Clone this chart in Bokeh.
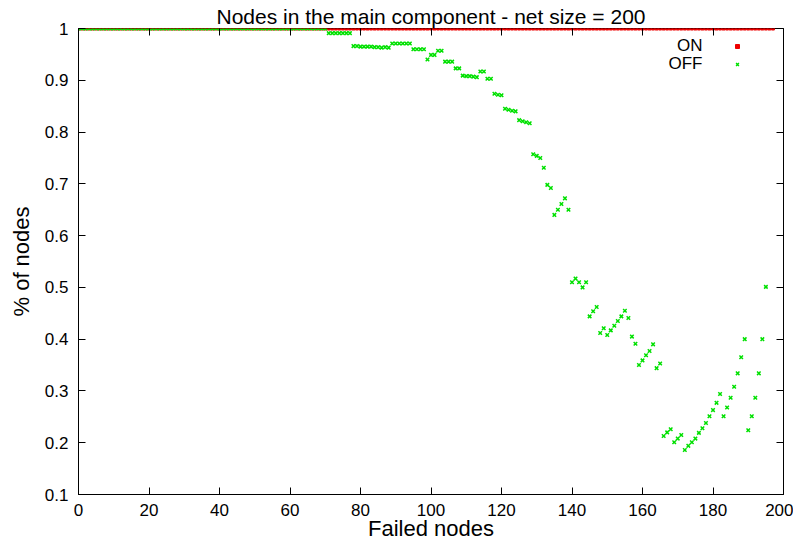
from bokeh.plotting import figure
from bokeh.models import (FixedTicker, LinearAxis, Legend, LegendItem, Range1d,
                          ColumnDataSource, CustomLabelingPolicy, Label)
from bokeh.embed import file_html
from bokeh.resources import INLINE

FONT = "Liberation Sans"

title_text = "Nodes in the main component - net size = 200"
x_label = "Failed nodes"
y_label = "% of nodes"
series_names = ["ON", "OFF"]

x_ticks = [0, 20, 40, 60, 80, 100, 120, 140, 160, 180, 200]
y_ticks = [0.1, 0.2, 0.3, 0.4, 0.5, 0.6, 0.7, 0.8, 0.9, 1]

# ON: fraction stays at 1 for every failed-node count
on_values = [1.0] * 198
on_failed = list(range(len(on_values)))

# OFF, one value per failed-node count 0..195
off_values = [1.0] * 71 + [
    0.991, 0.991, 0.991, 0.991, 0.991, 0.991, 0.991,
    0.966, 0.966, 0.965, 0.965, 0.965, 0.965, 0.964, 0.964, 0.963, 0.964, 0.963,
    0.971, 0.971, 0.971, 0.971, 0.971, 0.971,
    0.960, 0.960, 0.960, 0.960,
    0.940,
    0.949, 0.949,
    0.957, 0.957,
    0.936, 0.936, 0.936,
    0.923, 0.923,
    0.909, 0.908, 0.908, 0.907, 0.906,
    0.917, 0.917,
    0.903, 0.903,
    0.874, 0.872, 0.871,
    0.845, 0.843, 0.841, 0.840,
    0.823, 0.821, 0.819, 0.817,
    0.757, 0.754, 0.750,
    0.731, 0.698, 0.692, 0.640, 0.650, 0.661, 0.672, 0.650,
    0.510, 0.517, 0.510, 0.500, 0.510,
    0.444, 0.454, 0.462,
    0.412, 0.421, 0.408, 0.417, 0.426, 0.435, 0.444, 0.455, 0.441,
    0.405, 0.391,
    0.350, 0.359, 0.369, 0.377, 0.390, 0.344, 0.353,
    0.213, 0.220, 0.226, 0.201, 0.208, 0.215,
    0.186, 0.194, 0.201, 0.208, 0.219, 0.228, 0.238, 0.251, 0.263, 0.277, 0.294,
    0.251, 0.268, 0.287, 0.308, 0.334, 0.365, 0.400,
    0.224, 0.251, 0.287, 0.334, 0.400, 0.501,
]
off_failed = list(range(len(off_values)))

src_on = ColumnDataSource(data=dict(x=on_failed, y=on_values))
src_off = ColumnDataSource(data=dict(x=off_failed, y=off_values))

p = figure(width=793, height=543, x_range=Range1d(0, 200), y_range=Range1d(0.1, 1.0),
           output_backend="svg", toolbar_location=None, title=title_text,
           min_border_left=78, min_border_right=10, min_border_top=28, min_border_bottom=48)
p.background_fill_color = "white"
p.border_fill_color = "white"
p.outline_line_color = "black"
p.outline_line_width = 1
p.xgrid.visible = False
p.ygrid.visible = False

p.title.text_font = FONT
p.title.text_font_style = "normal"
p.title.text_font_size = "21px"
p.title.align = "center"
p.title.standoff = 2
p.title.text_color = "black"

for ax in (p.xaxis[0], p.yaxis[0]):
    ax.major_tick_in = 7
    ax.major_tick_out = 0
    ax.minor_tick_line_color = None
    ax.major_label_text_font = FONT
    ax.major_label_text_font_size = "17px"
    ax.major_label_text_color = "black"
    ax.axis_label_text_font = FONT
    ax.axis_label_text_font_size = "22px"
    ax.axis_label_text_font_style = "normal"
    ax.axis_label_text_color = "black"
    ax.axis_line_color = "black"
    ax.major_tick_line_color = "black"

p.xaxis.ticker = FixedTicker(ticks=x_ticks)
p.yaxis.ticker = FixedTicker(ticks=y_ticks)
p.yaxis.major_label_overrides = {1: "1"}
p.xaxis.axis_label = x_label
p.yaxis.axis_label = y_label
p.xaxis.major_label_standoff = 9
p.xaxis.axis_label_standoff = -3
p.yaxis.major_label_standoff = 10
p.yaxis.axis_label_standoff = 8

top_axis = LinearAxis(ticker=FixedTicker(ticks=x_ticks), major_tick_in=7, major_tick_out=0,
                      minor_tick_line_color=None, axis_line_color=None,
                      major_label_text_font_size="0px", major_label_standoff=0,
                      axis_label_standoff=0,
                      major_label_policy=CustomLabelingPolicy(code="for (const i of indices) indices.unset(i)"))
right_axis = LinearAxis(ticker=FixedTicker(ticks=y_ticks), major_tick_in=7, major_tick_out=0,
                        minor_tick_line_color=None, axis_line_color=None,
                        major_label_text_font_size="0px", major_label_standoff=0,
                        axis_label_standoff=0,
                        major_label_policy=CustomLabelingPolicy(code="for (const i of indices) indices.unset(i)"))
p.add_layout(top_axis, "above")
p.add_layout(right_axis, "right")

r_on = p.scatter(x="x", y="y", source=src_on, marker="square", size=3,
                 fill_color="#ee0000", line_color="#ee0000", line_width=1)
r_off = p.scatter(x="x", y="y", source=src_off, marker="x", size=5,
                  line_color="#00e000", line_width=1.5)

# legend: marker samples via Legend, names as right-aligned text to their left
legend = Legend(items=[LegendItem(label="", renderers=[r_on]),
                       LegendItem(label="", renderers=[r_off])],
                location=(654, 421), border_line_color=None, background_fill_alpha=0,
                padding=0, margin=0, spacing=0, glyph_width=10, glyph_height=18,
                label_height=18, label_width=0, label_standoff=0,
                label_text_font=FONT, label_text_font_size="17px")
p.add_layout(legend)

for name, ys in zip(series_names, (449, 431)):
    p.add_layout(Label(x=624, y=ys, x_units="screen", y_units="screen", text=name,
                       text_align="right", text_baseline="middle", text_font=FONT,
                       text_font_size="17px", text_color="black"))

open("out.html", "w").write(file_html(p, INLINE))
